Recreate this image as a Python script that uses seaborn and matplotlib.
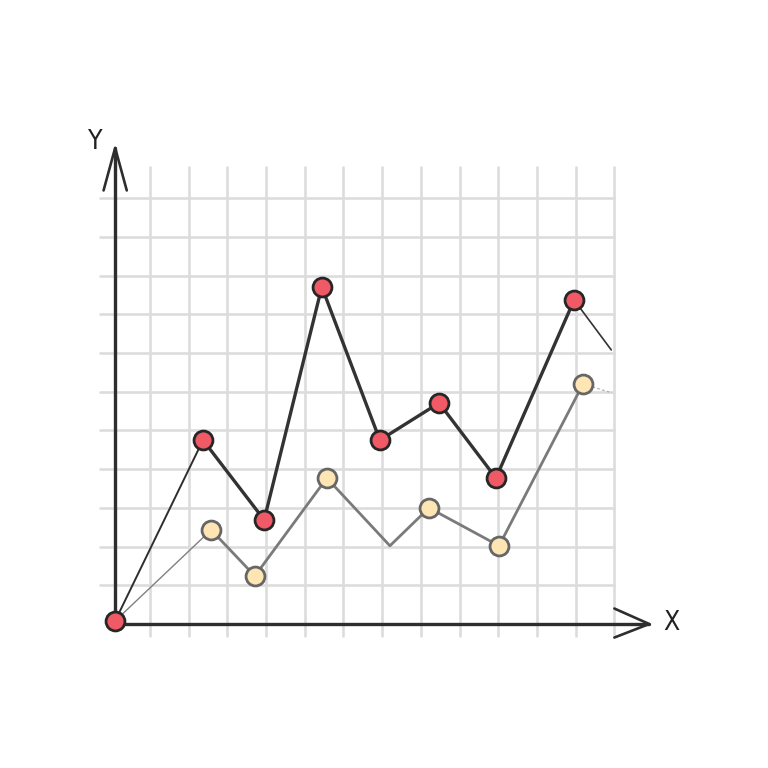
import matplotlib
matplotlib.use("Agg")
import matplotlib.pyplot as plt
import seaborn as sns
import pandas as pd

#---------------- data (grid units) ----------------
red_x = [0.1, 2.37, 3.95, 5.44, 6.94, 8.47, 9.94, 11.96]
red_y = [0.08, 4.75, 2.69, 8.71, 4.75, 5.71, 3.77, 8.37]
red_tail_x = [11.96, 12.92]
red_tail_y = [8.37, 7.08]

yel_x = [0.1, 2.58, 3.71, 5.57, 7.2, 8.21, 10.02, 12.19]
yel_y = [0.08, 2.43, 1.24, 3.77, 2.02, 3.0, 2.02, 6.2]
yel_marker = [True, True, True, True, False, True, True, True]
yel_tail_x = [12.19, 12.94]
yel_tail_y = [6.2, 5.97]

grid_x = list(range(1, 14))
grid_y = list(range(1, 12))

red_df = pd.DataFrame({"x": red_x, "y": red_y})
yel_df = pd.DataFrame({"x": yel_x, "y": yel_y, "m": yel_marker})

sns.set_style("white")
plt.rcParams["font.family"] = ["DejaVu Sans"]

fig = plt.figure(figsize=(7.68, 7.68), dpi=100)
ax = fig.add_axes([0, 0, 1, 1])
ax.set_xlim(-2.876, 16.97)
ax.set_ylim(-3.72, 16.12)
ax.axis("off")

# grid
for gx in grid_x:
    ax.plot([gx, gx], [-0.3, 11.8], color="#dcdcdc", lw=1.9, zorder=1)
for gy in grid_y:
    ax.plot([-0.3, 13.0], [gy, gy], color="#dcdcdc", lw=1.9, zorder=1)

# axes with open arrow heads
ax.plot([0.1, 0.1], [0.0, 12.3], color="#2e2e2e", lw=2.4, zorder=3)
ax.plot([-0.2, 0.1, 0.4], [11.2, 12.3, 11.2], color="#2e2e2e", lw=1.9, zorder=3)
ax.plot([0.1, 13.9], [0.0, 0.0], color="#2e2e2e", lw=2.4, zorder=3)
ax.plot([13.0, 13.9, 13.0], [0.4, 0.0, -0.35], color="#2e2e2e", lw=1.9, zorder=3)
ax.text(-0.42, 12.45, "Y", fontsize=19, fontstretch="condensed", color="#222222",
        ha="center", va="center", transform=ax.transData)
ax.text(14.47, 0.02, "X", fontsize=19, fontstretch="condensed", color="#222222",
        ha="center", va="center")

# yellow series
ax.plot(yel_x[:2], yel_y[:2], color="#808080", lw=1.0, zorder=4)
sns.lineplot(data=yel_df.iloc[1:], x="x", y="y", sort=False, color="#7a7a7a",
             lw=2.0, ax=ax, zorder=4)
ax.plot(yel_tail_x, yel_tail_y, color="#aaaaaa", lw=0.9, ls=(0, (2, 2)), zorder=4)

# red series
ax.plot(red_x[:2], red_y[:2], color="#2e2e2e", lw=1.4, zorder=5)
sns.lineplot(data=red_df.iloc[1:], x="x", y="y", sort=False, color="#333333",
             lw=2.4, ax=ax, zorder=5)
ax.plot(red_tail_x, red_tail_y, color="#333333", lw=1.2, zorder=5)

# markers
sns.scatterplot(data=yel_df[yel_df["m"]].iloc[1:], x="x", y="y", s=185,
                color="#fde6b4", edgecolor="#666666", linewidth=2.0, ax=ax, zorder=6)
sns.scatterplot(data=red_df, x="x", y="y", s=185, color="#f05a66",
                edgecolor="#262626", linewidth=2.0, ax=ax, zorder=7)

ax.set_xlim(-2.876, 16.97)
ax.set_ylim(-3.72, 16.12)
fig.savefig("out.png", dpi=100, facecolor="white")
